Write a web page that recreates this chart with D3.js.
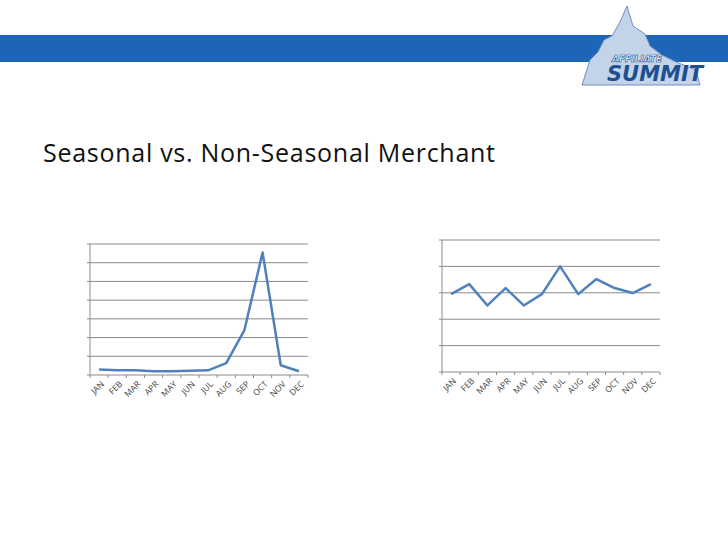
<!DOCTYPE html>
<html>
<head>
<meta charset="utf-8">
<script src="https://cdn.jsdelivr.net/npm/d3@7"></script>
<style>
  body { margin: 0; background: #fff; }
  svg { display: block; }
</style>
</head>
<body>
<svg id="slide" width="728" height="546"></svg>
<script>
// Data
const months = ["JAN", "FEB", "MAR", "APR", "MAY", "JUN", "JUL", "AUG", "SEP", "OCT", "NOV", "DEC"];
const seasonalValues = [0.3, 0.25, 0.25, 0.2, 0.2, 0.23, 0.25, 0.63, 2.4, 6.55, 0.52, 0.2];
const nonSeasonalValues = [2.95, 3.33, 2.52, 3.18, 2.52, 2.95, 4.0, 2.95, 3.52, 3.18, 2.99, 3.33];
const seasonalGrid = [0, 1, 2, 3, 4, 5, 6, 7];
const nonSeasonalGrid = [0, 1, 2, 3, 4, 5];

const svg = d3.select("#slide");

// Header band
svg.append("rect")
    .attr("x", 0).attr("y", 35).attr("width", 728).attr("height", 27)
    .attr("fill", "#1d65b6");

// Logo: mountain + text
svg.append("path")
    .attr("d", "M582,85 L590,60 L598,52 L604,40 L612,36 L620,22 L627,6 L633,26 L645,34 L650,46 L662,55 L676,62 L696,70 L700,85 Z")
    .attr("fill", "#c3d3e8")
    .attr("stroke", "#6f90bf")
    .attr("stroke-width", 1);
svg.append("text")
    .attr("x", 612).attr("y", 62)
    .attr("font-family", "DejaVu Sans")
    .attr("font-weight", "bold").attr("font-style", "italic")
    .attr("font-size", 9)
    .attr("fill", "#fff").attr("stroke", "#1d4f91").attr("stroke-width", 0.6)
    .text("AFFILIATE");
svg.append("text")
    .attr("x", 607).attr("y", 81)
    .attr("font-family", "DejaVu Sans")
    .attr("font-weight", "bold").attr("font-style", "italic")
    .attr("font-size", 21)
    .attr("fill", "#1d4f91")
    .text("SUMMIT");

// Title
svg.append("text")
    .attr("x", 43).attr("y", 162)
    .attr("font-family", "Open Sans, sans-serif")
    .attr("font-size", 25)
    .attr("textLength", 452)
    .attr("fill", "#111")
    .text("Seasonal vs. Non-Seasonal Merchant");

function drawChart(left, top, width, height, values, grid) {
    const g = svg.append("g").attr("transform", `translate(${left},${top})`);

    const x = d3.scalePoint().domain(months).range([0, width]).padding(0.5);
    const xb = d3.scaleBand().domain(months).range([0, width]);
    const y = d3.scaleLinear().domain([0, d3.max(grid)]).range([height, 0]);

    // gridlines
    g.selectAll("line.grid")
        .data(grid.slice(1))
        .enter().append("line")
        .attr("x1", 0).attr("x2", width)
        .attr("y1", d => y(d)).attr("y2", d => y(d))
        .attr("stroke", "#8a8a8a").attr("stroke-width", 1);

    // y axis with small ticks
    g.append("line")
        .attr("x1", 0).attr("x2", 0).attr("y1", 0).attr("y2", height)
        .attr("stroke", "#8a8a8a");
    g.selectAll("line.ytick")
        .data(grid)
        .enter().append("line")
        .attr("x1", -3).attr("x2", 0)
        .attr("y1", d => y(d)).attr("y2", d => y(d))
        .attr("stroke", "#8a8a8a");

    // x axis
    g.append("line")
        .attr("x1", 0).attr("x2", width).attr("y1", height).attr("y2", height)
        .attr("stroke", "#8a8a8a");
    g.selectAll("line.xtick")
        .data(months.concat(["end"]))
        .enter().append("line")
        .attr("x1", (d, i) => i < months.length ? xb(d) : width)
        .attr("x2", (d, i) => i < months.length ? xb(d) : width)
        .attr("y1", height).attr("y2", height + 3)
        .attr("stroke", "#8a8a8a");

    g.selectAll("text.xl")
        .data(months)
        .enter().append("text")
        .attr("x", 0).attr("y", 0)
        .attr("transform", d => `translate(${x(d) + 4},${height + 8}) rotate(-45)`)
        .attr("text-anchor", "end")
        .attr("dominant-baseline", "middle")
        .attr("font-family", "Open Sans, sans-serif")
        .attr("font-size", 8.5)
        .attr("fill", "#444")
        .text(d => d);

    const line = d3.line()
        .x((d, i) => x(months[i]))
        .y(d => y(d));

    g.append("path")
        .datum(values)
        .attr("fill", "none")
        .attr("stroke", "#4f81bd")
        .attr("stroke-width", 2.5)
        .attr("stroke-linejoin", "round")
        .attr("d", line);
}

drawChart(90, 244, 218, 131, seasonalValues, seasonalGrid);
drawChart(442, 240, 218, 132, nonSeasonalValues, nonSeasonalGrid);
</script>
</body>
</html>
